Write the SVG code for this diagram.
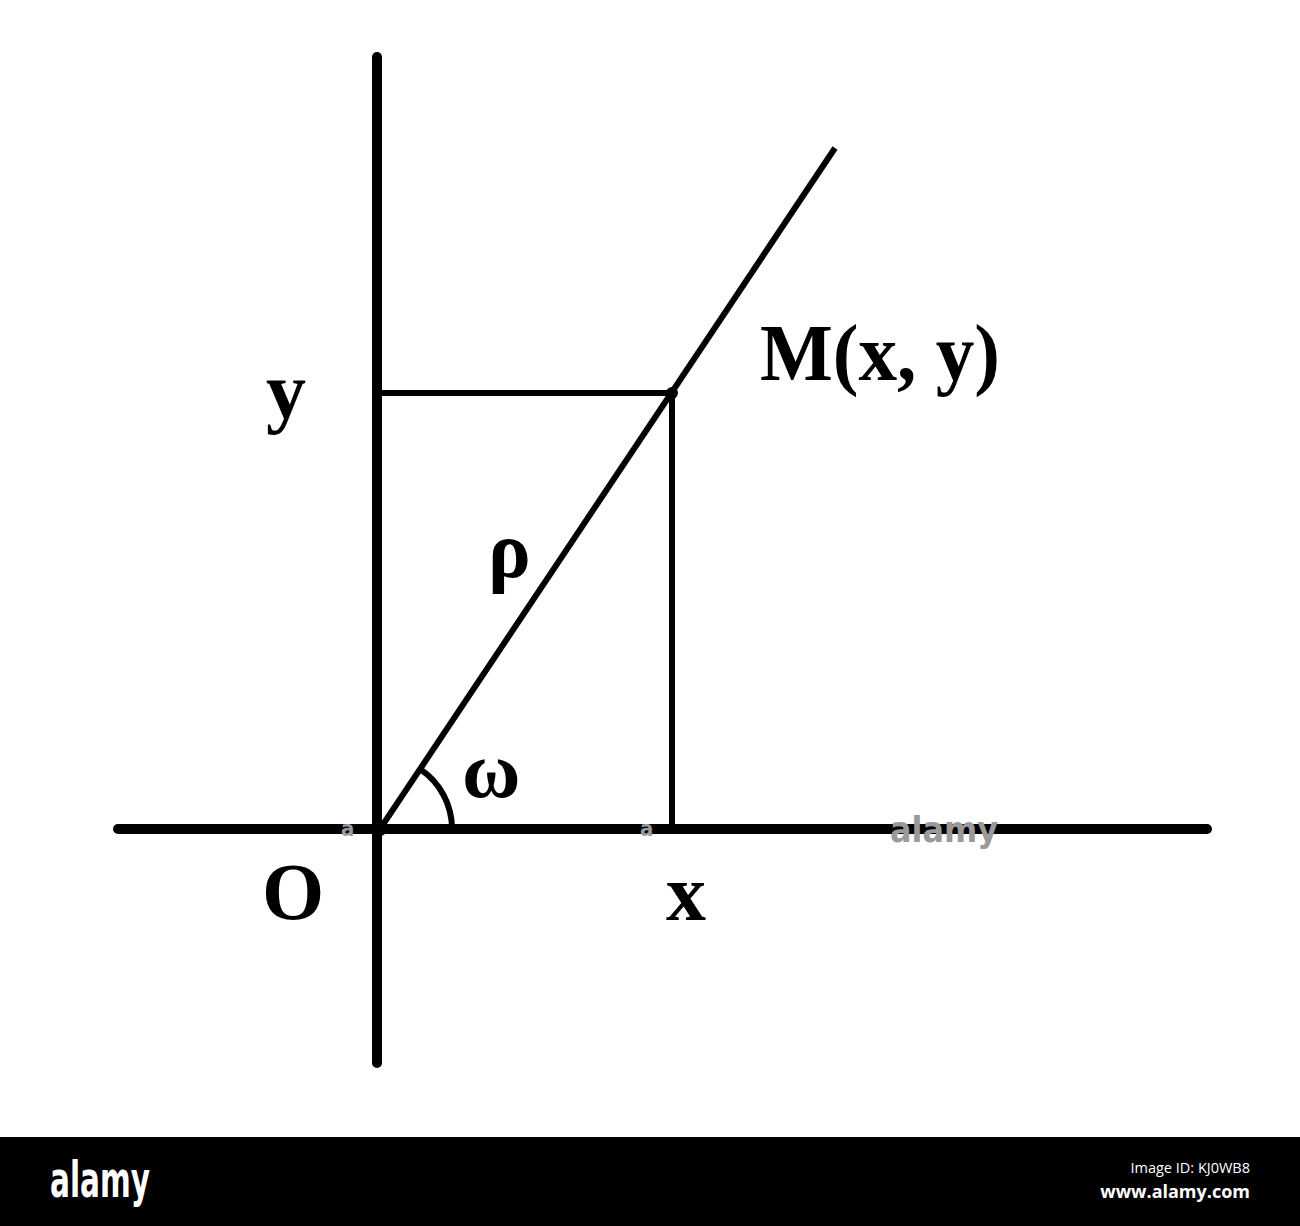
<svg xmlns="http://www.w3.org/2000/svg" width="1300" height="1226" viewBox="0 0 1300 1226">
<style>
.lbl{font-family:"Liberation Serif","Times New Roman",serif;font-weight:bold;font-size:80px;fill:#000}
.ax{stroke:#000;stroke-width:10;fill:none;stroke-linecap:round}
.ln{stroke:#000;stroke-width:6;fill:none}
.wm{font-family:"DejaVu Sans Condensed","DejaVu Sans",sans-serif;font-weight:bold;fill:#9a9a9a}
</style>
<rect width="1300" height="1226" fill="#fff"/>
<g id="connectors">
<line class="ax" x1="377" y1="57" x2="377" y2="1063"/>
<line class="ax" x1="118" y1="829" x2="1207" y2="829"/>
<line class="ln" x1="377" y1="393" x2="672" y2="393"/>
<line class="ln" x1="672" y1="393" x2="672" y2="829"/>
<line class="ln" x1="380" y1="829" x2="835" y2="148" stroke-width="5"/>
<path class="ln" d="M 420 769 A 72 72 0 0 1 452 829" stroke-width="5"/>
</g>
<g id="point-M"><circle cx="672" cy="393" r="6" fill="#000"/><text class="lbl" x="760" y="380" font-size="78" textLength="240" lengthAdjust="spacingAndGlyphs">M(x, y)</text></g>
<g id="origin"><circle cx="380" cy="829" r="7" fill="#000"/><text class="lbl" x="262" y="919">O</text></g>
<g id="label-y"><text class="lbl" x="266" y="418">y</text></g>
<g id="label-x"><text class="lbl" x="666" y="920">x</text></g>
<g id="label-rho"><text class="lbl" x="488" y="577">ρ</text></g>
<g id="label-omega"><text class="lbl" x="462" y="797" font-size="72">ω</text></g>
<g id="watermark">
<text class="wm" x="890" y="842" font-size="36" textLength="108" lengthAdjust="spacingAndGlyphs">alamy</text>
<text class="wm" x="341" y="836" font-size="22">a</text>
<text class="wm" x="640" y="836" font-size="22">a</text>
</g>
<g id="footer">
<rect x="0" y="1137" width="1300" height="89" fill="#000"/>
<text x="50" y="1197" font-family="'DejaVu Sans Condensed','DejaVu Sans',sans-serif" font-weight="bold" font-size="50" fill="#fff" textLength="100" lengthAdjust="spacingAndGlyphs">alamy</text>
<text x="1250" y="1173" text-anchor="end" font-family="'Open Sans','DejaVu Sans',sans-serif" font-size="14.5" fill="#fff">Image ID: KJ0WB8</text>
<text x="1250" y="1198" text-anchor="end" font-family="'Open Sans','DejaVu Sans',sans-serif" font-weight="bold" font-size="18" fill="#fff">www.alamy.com</text>
</g>
</svg>
